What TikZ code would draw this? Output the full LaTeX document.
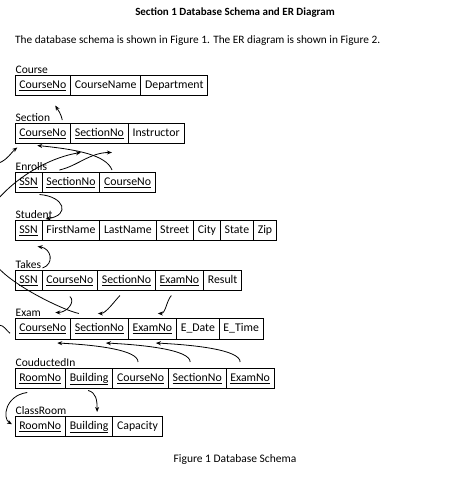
\documentclass[tikz,border=0pt]{standalone}
\usepackage{fontspec}
\setmainfont{Carlito}
\usetikzlibrary{positioning,calc,arrows.meta}

\tikzset{
  cell/.style={draw, rectangle, inner xsep=4.3pt, inner ysep=0pt, minimum height=20.5pt,
    text height=8.5pt, text depth=2.5pt, outer sep=0pt, line width=0.8pt,
    font=\fontsize{11.8}{13}\selectfont},
  tname/.style={anchor=south west, inner xsep=0.5pt, inner ysep=1.5pt},
  fk/.style={->, >={Stealth[length=5pt,width=4pt]}, line width=0.8pt},
  stray/.style={line width=0.8pt},
}

\begin{document}
\begin{tikzpicture}[x=1pt,y=-1pt,font=\fontsize{11.5}{13}\selectfont]
\useasboundingbox (0,0) rectangle (474,479);

\node[font=\fontsize{11}{13}\selectfont\bfseries] (title) at (235,13) {Section 1 Database Schema and ER Diagram};
\node[anchor=west, inner xsep=0pt, font=\fontsize{11.3}{13}\selectfont] (intro) at (15,41) {The database schema is shown in Figure 1. The ER diagram is shown in Figure 2.};

% Course
\node[cell, anchor=north west] (course-no) at (15,75) {\underline{CourseNo}};
\node[cell, right=0pt of course-no] (course-name) {CourseName};
\node[cell, right=0pt of course-name] (course-dept) {Department};
\node[tname] (course-lbl) at (course-no.north west) {Course};

% Section
\node[cell, anchor=north west] (sec-cno) at (15,123) {\underline{CourseNo}};
\node[cell, right=0pt of sec-cno] (sec-sno) {\underline{SectionNo}};
\node[cell, right=0pt of sec-sno] (sec-inst) {Instructor};
\node[tname] (sec-lbl) at (sec-cno.north west) {Section};

% Enrolls
\node[cell, anchor=north west] (enr-ssn) at (15,172) {\underline{SSN}};
\node[cell, right=0pt of enr-ssn] (enr-sno) {\underline{SectionNo}};
\node[cell, right=0pt of enr-sno] (enr-cno) {\underline{CourseNo}};
\node[tname] (enr-lbl) at (enr-ssn.north west) {Enrolls};

% Student
\node[cell, anchor=north west] (stu-ssn) at (15,220) {\underline{SSN}};
\node[cell, right=0pt of stu-ssn] (stu-fn) {FirstName};
\node[cell, right=0pt of stu-fn] (stu-ln) {LastName};
\node[cell, right=0pt of stu-ln] (stu-street) {Street};
\node[cell, right=0pt of stu-street] (stu-city) {City};
\node[cell, right=0pt of stu-city] (stu-state) {State};
\node[cell, right=0pt of stu-state] (stu-zip) {Zip};
\node[tname] (stu-lbl) at (stu-ssn.north west) {Student};

% Takes
\node[cell, anchor=north west] (tak-ssn) at (15,270) {\underline{SSN}};
\node[cell, right=0pt of tak-ssn] (tak-cno) {\underline{CourseNo}};
\node[cell, right=0pt of tak-cno] (tak-sno) {\underline{SectionNo}};
\node[cell, right=0pt of tak-sno] (tak-eno) {\underline{ExamNo}};
\node[cell, right=0pt of tak-eno] (tak-res) {Result};
\node[tname] (tak-lbl) at (tak-ssn.north west) {Takes};

% Exam
\node[cell, anchor=north west] (exam-cno) at (15,318.5) {\underline{CourseNo}};
\node[cell, right=0pt of exam-cno] (exam-sno) {\underline{SectionNo}};
\node[cell, right=0pt of exam-sno] (exam-eno) {\underline{ExamNo}};
\node[cell, right=0pt of exam-eno] (exam-date) {E\_Date};
\node[cell, right=0pt of exam-date] (exam-time) {E\_Time};
\node[tname] (exam-lbl) at (exam-cno.north west) {Exam};

% CouductedIn
\node[cell, anchor=north west] (con-room) at (15,368) {\underline{RoomNo}};
\node[cell, right=0pt of con-room] (con-bldg) {\underline{Building}};
\node[cell, right=0pt of con-bldg] (con-cno) {\underline{CourseNo}};
\node[cell, right=0pt of con-cno] (con-sno) {\underline{SectionNo}};
\node[cell, right=0pt of con-sno] (con-eno) {\underline{ExamNo}};
\node[tname] (con-lbl) at (con-room.north west) {CouductedIn};

% ClassRoom
\node[cell, anchor=north west] (room-no) at (15,416) {\underline{RoomNo}};
\node[cell, right=0pt of room-no] (room-bldg) {\underline{Building}};
\node[cell, right=0pt of room-bldg] (room-cap) {Capacity};
\node[tname] (room-lbl) at (room-no.north west) {ClassRoom};

\node (caption) at (235,459) {Figure 1 Database Schema};

% loose ends coming in from the left
\coordinate (offA) at (-1,163);
\coordinate (offB) at (-2,199);
\coordinate (offC) at (-4,265);
\coordinate (offD) at (-1,325);

% foreign keys
\draw[fk] ($(sec-cno.north)+(19.5,-3)$) .. controls +(-2,-8) and +(3,5) .. ($(course-no.south)+(12.5,10)$);
\draw[fk] ($(enr-cno.north)+(-15.5,-2)$) .. controls +(-6,-15) and +(40,4) .. ($(sec-cno.south)+(-5.5,2)$);
\draw[fk] ($(enr-sno.north)+(-11.5,-2)$) .. controls +(18,-4) and +(-22,0) .. ($(sec-sno.south)+(12.5,9)$);
\draw[fk] (offB) .. controls +(25,-28) and +(-25,4) .. ($(sec-sno.south)+(-18.5,9)$);
\draw[fk] (offA) .. controls +(8,-3) and +(-5,4) .. ($(sec-cno.south)+(-25.5,4)$);
\draw[fk] ($(enr-ssn.south)+(11,2)$) .. controls +(25,2) and +(25,-4) .. ($(stu-ssn.north)+(17,-1)$);
\draw[fk] ($(tak-ssn.north)+(14,-2)$) .. controls +(12,-4) and +(14,2) .. ($(stu-ssn.south)+(9,6)$);
\draw[stray] (offC) .. controls +(15,20) and +(-15,-3) .. ($(exam-sno.north)+(-20.5,-5)$);
\draw[fk] ($(tak-cno.south)+(0,6)$) .. controls +(6,5) and +(12,0) .. ($(exam-cno.north)+(12.5,-6)$);
\draw[fk] ($(tak-sno.south)+(-6.5,5)$) .. controls +(-5,5) and +(8,0) .. ($(exam-sno.north)+(-1.5,-5)$);
\draw[fk] ($(tak-eno.south)+(-8,5)$) .. controls +(-5,5) and +(8,0) .. ($(exam-eno.north)+(5.5,-5)$);
\draw[stray] (offD) .. controls +(5,0) and +(-3,-2) .. ($(exam-cno.west)+(-5,4.5)$);
\draw[fk] ($(con-cno.north)+(-2.5,-6)$) .. controls +(0,-12) and +(40,2) .. ($(exam-cno.south)+(14.5,4)$);
\draw[fk] ($(con-sno.north)+(-7,-6)$) .. controls +(0,-12) and +(40,2) .. ($(exam-sno.south)+(6.5,4)$);
\draw[fk] ($(con-eno.north)+(-10,-6)$) .. controls +(0,-12) and +(40,2) .. ($(exam-eno.south)+(3.5,4)$);
\draw[fk] ($(con-bldg.south)+(-1,2)$) .. controls +(8,2) and +(0,-12) .. ($(room-bldg.north)+(8,-4)$);
\draw[fk] ($(con-room.south)+(-13,4)$) .. controls +(-22,3) and +(-10,-6) .. ($(room-no.west)+(-3,-2)$);
\end{tikzpicture}
\end{document}
